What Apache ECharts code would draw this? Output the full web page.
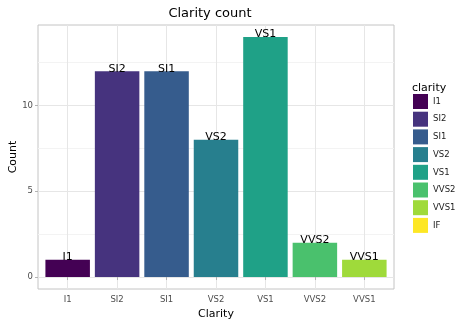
<!DOCTYPE html>
<html>
<head>
<meta charset="utf-8">
<script src="https://cdn.jsdelivr.net/npm/echarts@6/dist/echarts.min.js"></script>
<style>html,body{margin:0;padding:0;background:#fff;}#c{width:474px;height:326px;}</style>
</head>
<body>
<div id="c"></div>
<script>
// Data
const levels = ['I1', 'SI2', 'SI1', 'VS2', 'VS1', 'VVS2', 'VVS1', 'IF'];
const counts = [1, 12, 12, 8, 14, 2, 1, null];
const categories = ['I1', 'SI2', 'SI1', 'VS2', 'VS1', 'VVS2', 'VVS1'];
const yMajorTicks = [0, 5, 10];
const yMinorTicks = [2.5, 7.5, 12.5];
const colors = ['#440154', '#46337E', '#365C8D', '#277F8E', '#1FA187', '#4AC16D', '#9FDA3A', '#FDE725'];

const FONT = 'DejaVu Sans';
const xPositions = categories.map((c, i) => i + 1);

const series = levels.map((lv, i) => ({
  name: lv,
  type: 'bar',
  stack: 'all',
  barWidth: '90%',
  itemStyle: { color: colors[i] },
  label: {
    show: true,
    position: 'top',
    distance: -3,
    formatter: () => lv,
    color: '#000',
    fontSize: 11,
    fontFamily: FONT
  },
  data: counts[i] == null ? [] : [[categories.indexOf(lv) + 1, counts[i]]]
}));

const chart = echarts.init(document.getElementById('c'));
chart.setOption({
  animation: false,
  backgroundColor: '#fff',
  textStyle: { fontFamily: FONT },
  title: [
    { text: 'Clarity count', left: 210, textAlign: 'center', padding: 0, top: 7,
      textStyle: { fontSize: 13, fontWeight: 'normal', color: '#000', fontFamily: FONT } },
    { text: 'clarity', left: 412, top: 83, padding: 0,
      textStyle: { fontSize: 11, fontWeight: 'normal', color: '#000', fontFamily: FONT } }
  ],
  legend: {
    orient: 'vertical', left: 413, top: 94, padding: 0,
    icon: 'rect', itemWidth: 15, itemHeight: 15, itemGap: 2.7,
    textStyle: { fontSize: 8.5, color: '#1a1a1a', fontFamily: FONT },
    data: levels
  },
  grid: { left: 38, right: 80, top: 25, height: 264, show: true, borderColor: '#c4c4c4', borderWidth: 1,
    containLabel: false, outerBoundsMode: 'none' },
  xAxis: {
    type: 'value', min: 0.4, max: 7.6,
    name: 'Clarity', nameLocation: 'middle', nameGap: 20, nameMoveOverlap: false,
    nameTextStyle: { fontSize: 11, color: '#000', fontFamily: FONT },
    axisLine: { show: false },
    axisTick: { show: true, length: 3, customValues: xPositions, lineStyle: { color: '#b3b3b3' } },
    axisLabel: { customValues: xPositions, margin: 6, fontSize: 8.5, color: '#4d4d4d',
      formatter: v => categories[Math.round(v) - 1] },
    splitLine: { show: true, lineStyle: { color: '#e6e6e6', width: 1 } }
  },
  yAxis: [{
    type: 'value', min: -0.7, max: 14.7,
    name: 'Count', nameLocation: 'middle', nameGap: 19, nameRotate: 90, nameMoveOverlap: false,
    nameTextStyle: { fontSize: 11, color: '#000', fontFamily: FONT },
    axisLine: { show: false },
    axisTick: { show: true, length: 3, customValues: yMajorTicks, lineStyle: { color: '#b3b3b3' } },
    axisLabel: { customValues: yMajorTicks, margin: 5, fontSize: 8.5, color: '#4d4d4d' },
    splitLine: { show: true, lineStyle: { color: '#e6e6e6', width: 1 } }
  }, {
    type: 'value', min: -0.7, max: 14.7, position: 'left',
    axisLine: { show: false },
    axisTick: { show: false, customValues: yMinorTicks },
    axisLabel: { show: false, customValues: yMinorTicks },
    splitLine: { show: true, lineStyle: { color: '#f3f3f3', width: 1 } }
  }],
  series: series
});
</script>
</body>
</html>
